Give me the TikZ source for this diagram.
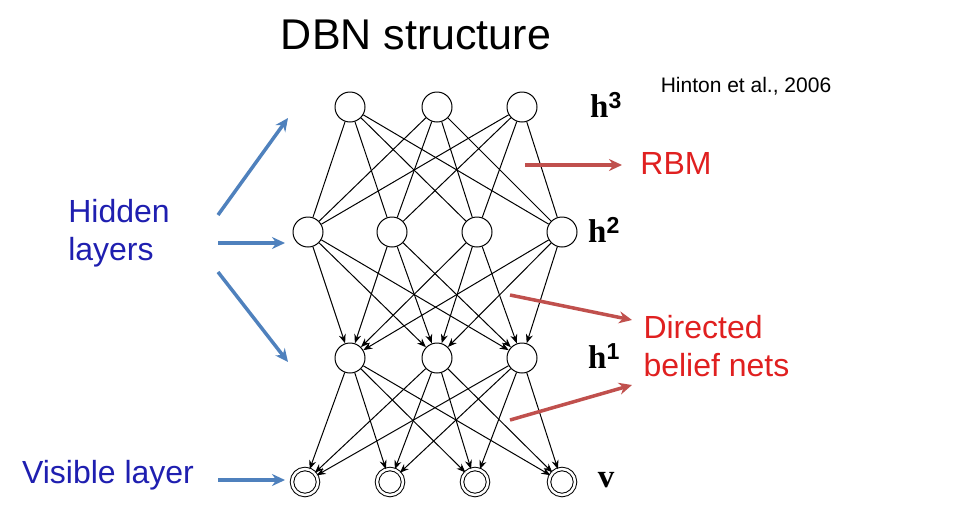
\documentclass[tikz,border=0pt]{standalone}
\usepackage{fontspec}
\setmainfont{Liberation Sans}
\newfontfamily\serifb{Liberation Serif}
\usetikzlibrary{arrows.meta}
\definecolor{bl}{HTML}{4F81BD}
\definecolor{rd}{HTML}{C0504D}
\definecolor{tb}{HTML}{1F1FB0}
\definecolor{tr}{HTML}{E02020}
\begin{document}
\begin{tikzpicture}[x=1pt,y=-1pt,
  unit/.style={circle,draw,line width=1pt,minimum size=30pt,inner sep=0pt,fill=white},
  vis/.style={unit,double,double distance=2.5pt,minimum size=26pt},
  link/.style={line width=1pt},
  dlink/.style={line width=1pt,-{Stealth[length=9pt,width=7pt]}},
  barrow/.style={bl,line width=3.5pt,-{Stealth[length=13pt,width=12pt]}},
  rarrow/.style={rd,line width=3.5pt,-{Stealth[length=13pt,width=12pt]}},
  lay/.style={font=\serifb\bfseries\fontsize{33}{36}\selectfont},
  big/.style={font=\fontsize{32}{38}\selectfont}]
\useasboundingbox (0,0) rectangle (966,520);
\foreach \x [count=\i] in {350,437,522}{\node[unit] (c\i) at (\x,107) {};}
\foreach \x [count=\i] in {308,392,477,562}{\node[unit] (b\i) at (\x,232) {};}
\foreach \x [count=\i] in {350,437,522}{\node[unit] (a\i) at (\x,358) {};}
\foreach \x [count=\i] in {305,390,475,562}{\node[vis] (v\i) at (\x,482) {};}
\foreach \i in {1,2,3}{\foreach \j in {1,2,3,4}{
  \draw[link] (c\i) -- (b\j);
  \draw[dlink] (b\j) -- (a\i);
  \draw[dlink] (a\i) -- (v\j);}}
\node[lay] (l3) at (606,105) {h$^{\mathbf 3}$};
\node[lay] (l2) at (604,230) {h$^{\mathbf 2}$};
\node[lay] (l1) at (604,356) {h$^{\mathbf 1}$};
\node[lay] (l0) at (606,480) {v};
\node[font=\fontsize{43}{48}\selectfont] (t) at (416,35) {DBN structure};
\node[font=\fontsize{21}{24}\selectfont] (ref) at (746,86) {Hinton et al., 2006};
\node[tb,align=left,big] (hid) at (119,233) {Hidden\\layers};
\node[tb,big] (vl) at (108,475) {Visible layer};
\node[tr,big] (rbm) at (676,163) {RBM};
\node[tr,align=left,big,anchor=west] (dbn) at (640,346) {Directed\\belief nets};
\coordinate (h1s) at (218,215); \coordinate (h1e) at (288,118);
\coordinate (h2s) at (218,243); \coordinate (h2e) at (285,243);
\coordinate (h3s) at (218,272); \coordinate (h3e) at (288,362);
\coordinate (vs) at (218,480); \coordinate (ve) at (285,480);
\draw[barrow] (h1s) -- (h1e);
\draw[barrow] (h2s) -- (h2e);
\draw[barrow] (h3s) -- (h3e);
\draw[barrow] (vs) -- (ve);
\coordinate (r1) at (525,165); \coordinate (r1e) at (622,165);
\coordinate (r2) at (510,295); \coordinate (r2e) at (632,320);
\coordinate (r3) at (510,420); \coordinate (r3e) at (632,385);
\draw[rarrow] (r1) -- (r1e);
\draw[rarrow] (r2) -- (r2e);
\draw[rarrow] (r3) -- (r3e);
\end{tikzpicture}
\end{document}
